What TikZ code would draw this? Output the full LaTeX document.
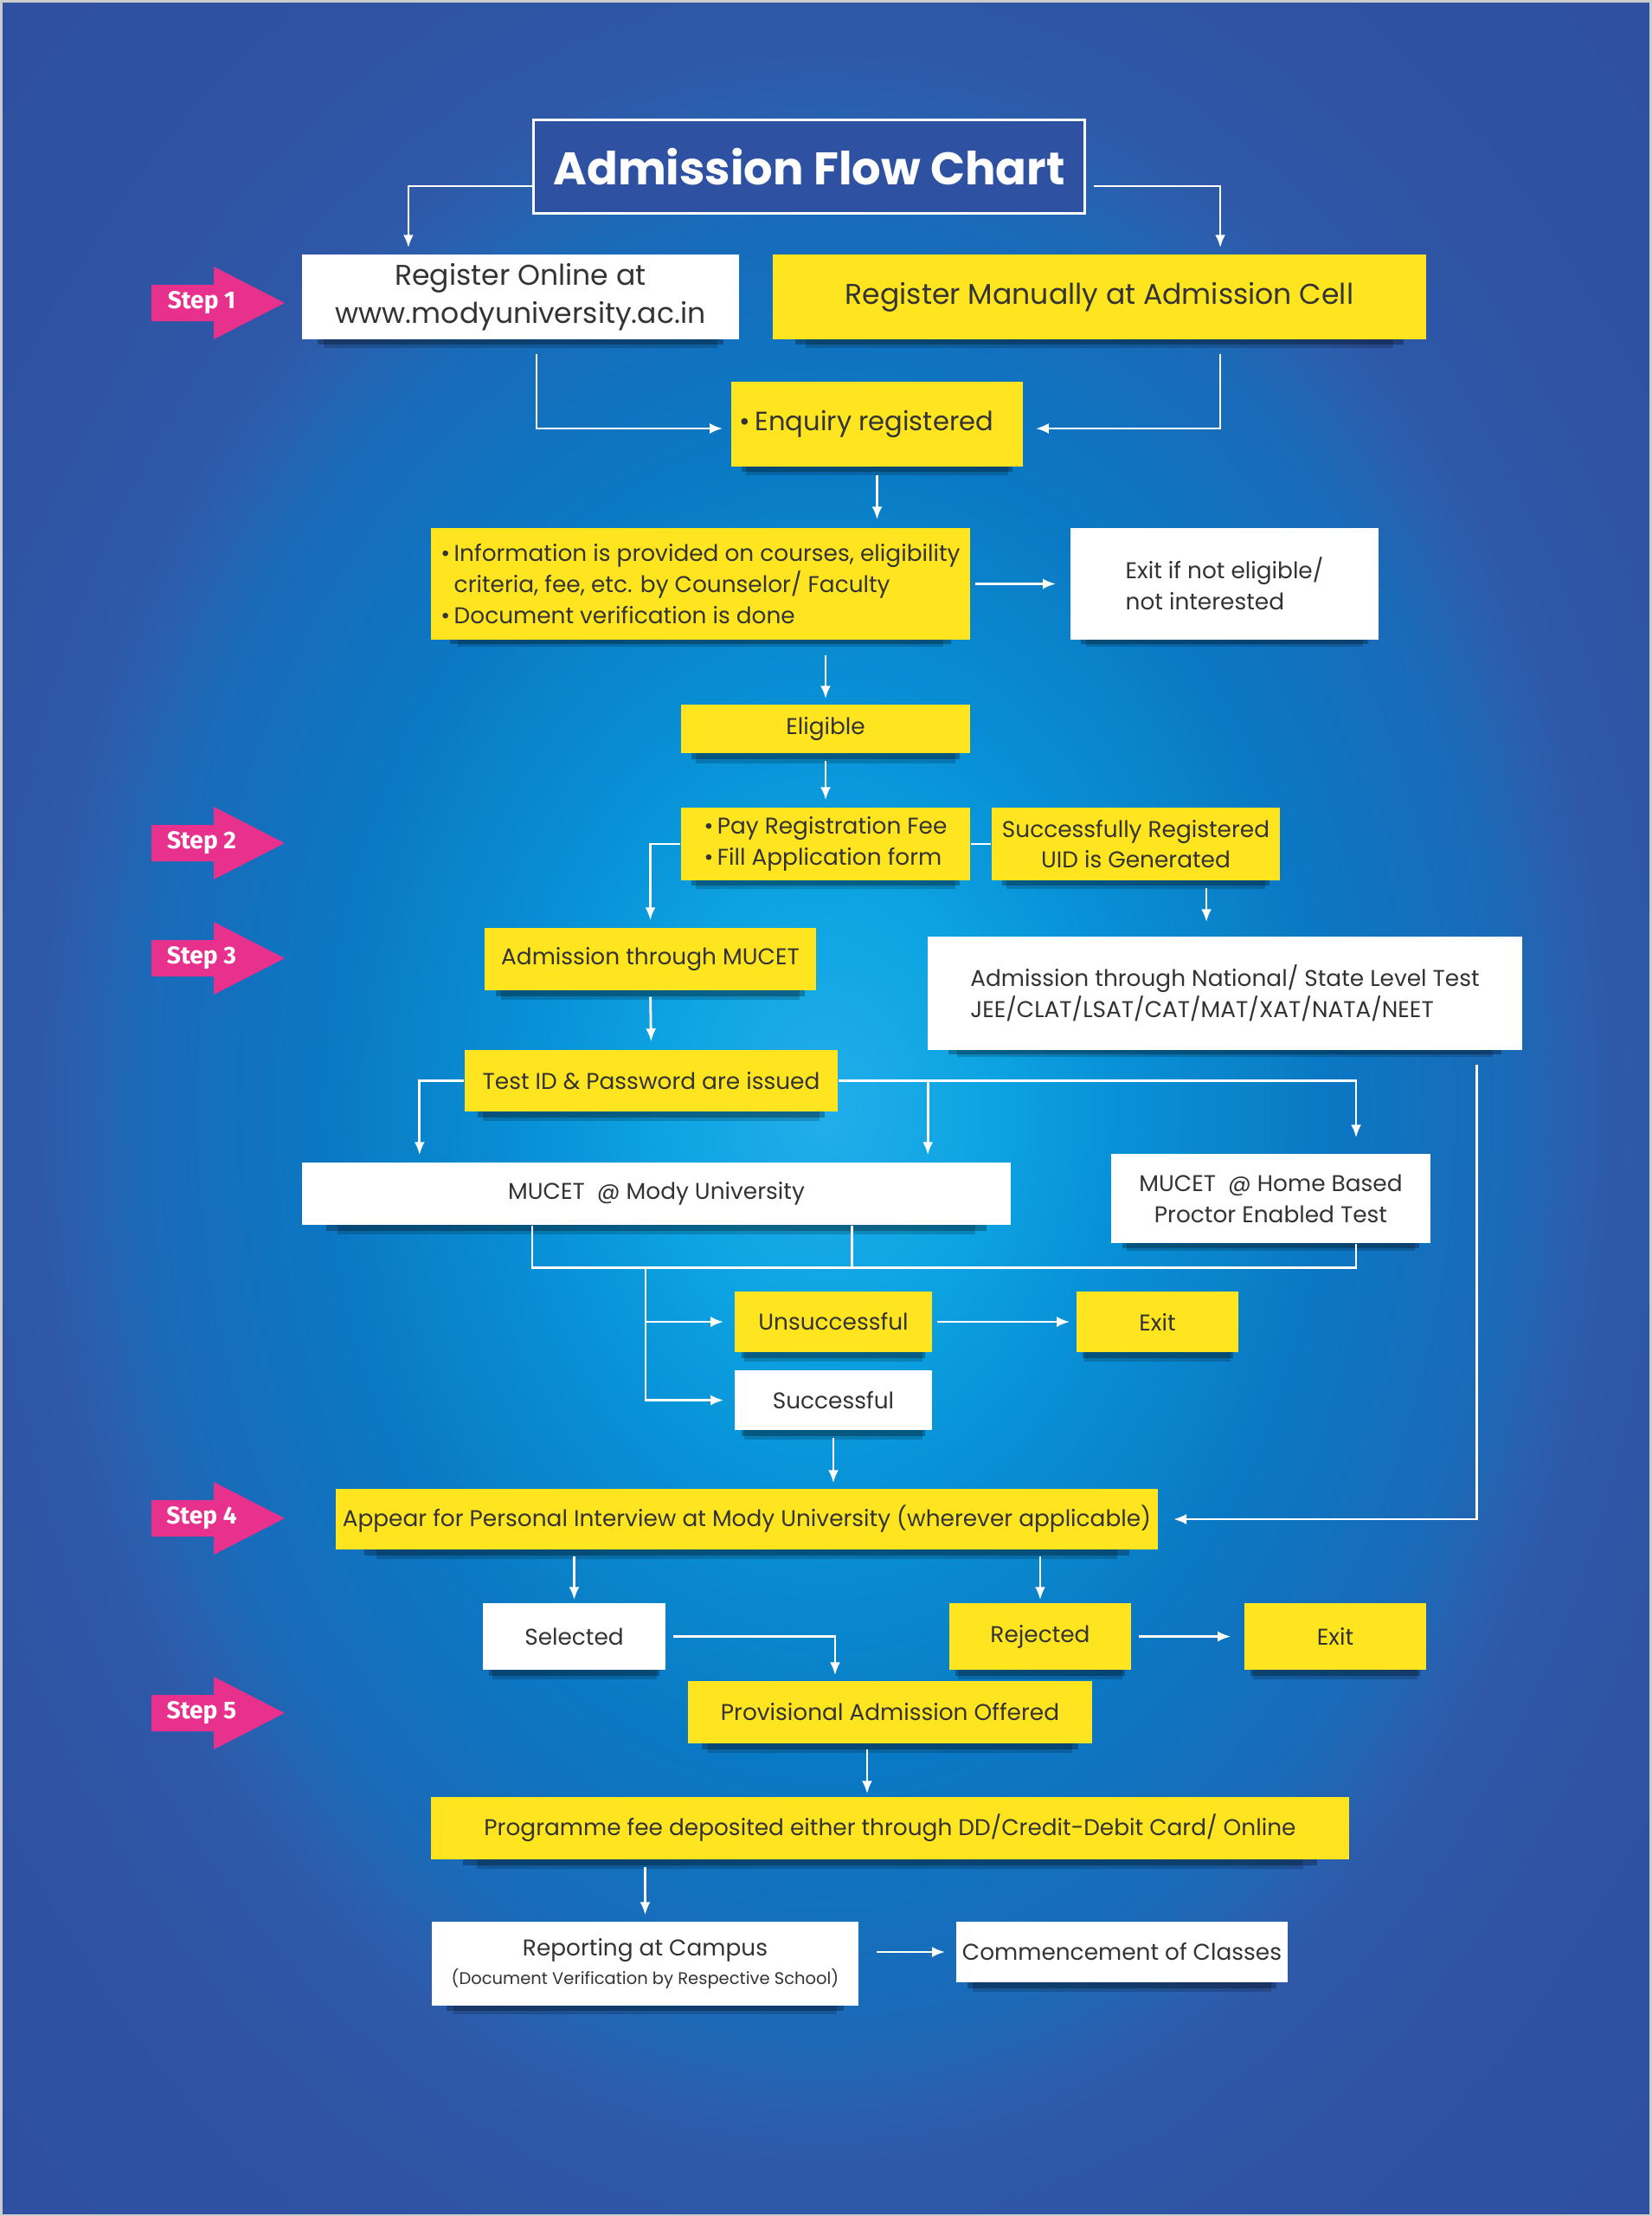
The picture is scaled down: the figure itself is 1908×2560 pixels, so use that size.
\documentclass[tikz,border=0pt]{standalone}
\usepackage{fontspec}
\setmainfont{Poppins}
\newfontfamily\stepfont{Fira Sans}
\usetikzlibrary{positioning}
\usetikzlibrary{shadows,arrows.meta,calc}
\definecolor{bgin}{HTML}{22AEEA}
\definecolor{bgout}{HTML}{2F4E9E}
\definecolor{titleblue}{HTML}{2F51A1}
\definecolor{boxyellow}{HTML}{FFE520}
\definecolor{textgray}{HTML}{333333}
\definecolor{steppink}{HTML}{E8318C}
\pgfdeclareradialshading{bgshade}{\pgfpoint{0bp}{0bp}}{%
  color(0bp)=(bgin); color(5bp)=(rgb,255:red,13;green,163;blue,226);
  color(9bp)=(rgb,255:red,8;green,144;blue,214);
  color(13.4bp)=(rgb,255:red,10;green,128;blue,200);
  color(15bp)=(rgb,255:red,10;green,120;blue,196);
  color(20.7bp)=(rgb,255:red,27;green,106;blue,184);
  color(22.7bp)=(rgb,255:red,42;green,95;blue,174);
  color(24bp)=(rgb,255:red,47;green,88;blue,168);
  color(30bp)=(rgb,255:red,47;green,81;blue,161);
  color(50bp)=(bgout)}
\newcommand\bodysize{\fontsize{7.5}{10.2}\selectfont}
\newcommand\midsize{\fontsize{8.7}{11}\selectfont}
\newcommand\bigsize{\fontsize{9.4}{12.5}\selectfont}
\newcommand\smallsize{\fontsize{5.55}{7}\selectfont}
\newcommand\titlesize{\fontsize{15}{17}\selectfont}
\newcommand\bul{\textbullet\,}
\tikzset{
  box/.style = {rectangle, fill=boxyellow, text=textgray, inner sep=0pt,
    align=center, font=\bodysize,
    drop shadow={shadow xshift=0mm, shadow yshift=-1.6mm, shadow scale=0.9,
      opacity=0.18, fill=black},
    drop shadow={shadow xshift=0mm, shadow yshift=-1.0mm, shadow scale=0.93,
      opacity=0.28, fill=black}},
  wbox/.style = {box, fill=white},
  link/.style = {draw=white, line width=0.28mm},
  conn/.style = {link, -{Latex[length=1.5mm,width=1.2mm]}},
  steptext/.style = {text=white, font=\stepfont\bfseries\fontsize{8}{9}\selectfont},
}

\begin{document}
\begin{tikzpicture}[x=0.01cm, y=-0.01cm]
  \useasboundingbox (0,0) rectangle (1908,2560);
  \shade[shading=bgshade] (0,0) rectangle (1908,2560);
  \draw[gray!40, line width=0.3mm] (1,1) rectangle (1907,2559);

  % step markers
  \foreach \y/\n in {350/1, 974/2, 1107/3, 1754/4, 1979/5}{
    \fill[steppink] (175,\y-21) -- (247,\y-21) -- (247,\y-42) -- (329,\y)
      -- (247,\y+42) -- (247,\y+21) -- (175,\y+21) -- cycle;
    \node[steptext] (step\n) at (233,\y) {Step \n};
  }

  \node[draw=white, line width=0.3mm, fill=titleblue, text=white,
    font=\titlesize\bfseries, minimum width=6.36cm, minimum height=1.07cm]
    (title) at (935,192.5) {Admission Flow Chart};

  \node[wbox, font=\bigsize, minimum width=5.05cm, minimum height=0.98cm]
    (online) at (601.5,343) {Register Online at\\www.modyuniversity.ac.in};
  \node[box, font=\bigsize, minimum width=7.55cm, minimum height=0.98cm]
    (manual) at (1270.5,343) {Register Manually at Admission Cell};
  \node[box, font=\midsize, minimum width=3.37cm, minimum height=0.98cm]
    (enq) at (1013.5,490) {\bul Enquiry registered\hspace*{2.4mm}};
  \node[box, align=left, minimum width=6.23cm, minimum height=1.29cm]
    (info) at (809.5,674.5)
    {\bul Information is provided on courses, eligibility\\
     \hphantom{\bul}criteria, fee, etc. by Counselor/ Faculty\\
     \bul Document verification is done};
  \node[wbox, align=left, minimum width=3.56cm, minimum height=1.29cm]
    (exitA) at (1415,674.5) {Exit if not eligible/\\not interested};
  \node[box, minimum width=3.34cm, minimum height=0.56cm]
    (elig) at (954,842) {Eligible};
  \node[box, align=left, minimum width=3.34cm, minimum height=0.84cm]
    (pay) at (954,975) {\bul Pay Registration Fee\\\bul Fill Application form};
  \node[box, minimum width=3.33cm, minimum height=0.84cm]
    (succreg) at (1312.5,975) {Successfully Registered\\UID is Generated};
  \node[box, minimum width=3.83cm, minimum height=0.72cm]
    (mucet) at (751.5,1108) {Admission through MUCET};
  \node[wbox, align=left, minimum width=6.87cm, minimum height=1.31cm]
    (natl) at (1415.5,1147.5)
    {Admission through National/ State Level Test\\JEE/CLAT/LSAT/CAT/MAT/XAT/NATA/NEET};
  \node[box, minimum width=4.31cm, minimum height=0.71cm]
    (testid) at (752.5,1248.5) {Test ID \& Password are issued};
  \node[wbox, minimum width=8.19cm, minimum height=0.72cm]
    (mody) at (758.5,1379) {MUCET\ \ @ Mody University};
  \node[wbox, minimum width=3.69cm, minimum height=1.03cm]
    (home) at (1468.5,1384.5) {MUCET\ \ @ Home Based\\Proctor Enabled Test};
  \node[box, minimum width=2.28cm, minimum height=0.70cm]
    (unsucc) at (963,1527) {Unsuccessful};
  \node[box, minimum width=1.87cm, minimum height=0.70cm]
    (exitB) at (1337.5,1527) {Exit};
  \node[wbox, minimum width=2.28cm, minimum height=0.69cm]
    (succ) at (963,1617.5) {Successful};
  \node[box, minimum width=9.50cm, minimum height=0.70cm]
    (appear) at (863,1755)
    {Appear for Personal Interview at Mody University (wherever applicable)};
  \node[wbox, minimum width=2.11cm, minimum height=0.77cm]
    (sel) at (663.5,1890.5) {Selected};
  \node[box, minimum width=2.10cm, minimum height=0.77cm]
    (rej) at (1202,1890.5) {Rejected};
  \node[box, minimum width=2.10cm, minimum height=0.77cm]
    (exitC) at (1543,1890.5) {Exit};
  \node[box, minimum width=4.67cm, minimum height=0.72cm]
    (prov) at (1028.5,1978) {Provisional Admission Offered};
  \node[box, minimum width=10.61cm, minimum height=0.72cm]
    (fee) at (1028.5,2112)
    {Programme fee deposited either through DD/Credit-Debit Card/ Online};
  \node[wbox, minimum width=4.93cm, minimum height=0.97cm]
    (report) at (745.5,2268.5)
    {Reporting at Campus\\[-1pt]{\smallsize(Document Verification by Respective School)}};
  \node[wbox, minimum width=3.83cm, minimum height=0.70cm]
    (classes) at (1296.5,2255) {Commencement of Classes};

  % connectors
  \draw[conn, shorten >=0.7mm] ([yshift=-2.25mm]title.west) -| ([xshift=-12.95mm]online.north);
  \draw[conn, shorten >=0.7mm] ([xshift=0.9mm, yshift=-2.25mm]title.east) -| ([xshift=13.95mm]manual.north);
  \draw[conn, shorten <=1.6mm, shorten >=0.9mm] ([xshift=1.85mm]online.south) |- ([yshift=-0.5mm]enq.west);
  \draw[conn, shorten <=1.6mm, shorten >=1.4mm] ([xshift=13.95mm]manual.south) |- ([yshift=-0.5mm]enq.east);
  \draw[conn, shorten <=0.9mm, shorten >=0.9mm] (enq.south) -- (enq.south |- info.north);
  \draw[conn, shorten <=0.5mm, shorten >=1.6mm] (info.east) -- (info.east -| exitA.west);
  \draw[conn, shorten <=1.7mm, shorten >=0.6mm] (elig.north |- info.south) -- (elig.north);
  \draw[conn, shorten <=0.8mm, shorten >=0.8mm] (elig.south) -- (pay.north);
  \draw[link] (pay.east) -- (succreg.west);
  \draw[conn, shorten >=0.8mm] (pay.west) -| (mucet.north);
  \draw[conn, shorten <=0.8mm, shorten >=1.6mm] ([xshift=8.15mm]succreg.south) -- ([xshift=8.15mm]succreg.south |- natl.north);
  \draw[conn, shorten <=0.7mm, shorten >=0.9mm] (mucet.south) -- (testid.north);
  \draw[conn, shorten >=0.8mm] (testid.west) -| ([xshift=-27.35mm]mody.north);
  \draw[conn, shorten >=1.8mm] (testid.east) -| ([xshift=9.85mm]home.north);
  \draw[conn, shorten >=0.8mm] ([xshift=31.35mm]mody.north |- testid.east) -- ([xshift=31.35mm]mody.north);
  \draw[link] ([xshift=-14.35mm]mody.south) -- ++(0,49) -| ([xshift=9.85mm]home.south);
  \draw[link] ([xshift=22.55mm]mody.south) -- ++(0,49);
  \coordinate (split) at (746,1464);
  \draw[conn, shorten >=1.2mm] (split) |- (unsucc.west);
  \draw[conn, shorten >=1.2mm] (split) |- (succ.west);
  \draw[conn, shorten <=0.5mm, shorten >=0.7mm] (unsucc.east) -- (exitB.west);
  \draw[conn, shorten <=0.8mm, shorten >=0.6mm] (succ.south) -- (succ.south |- appear.north);
  \draw[conn, shorten <=1.6mm, shorten >=1.7mm] ([xshift=29.05mm]natl.south) |- (appear.east);
  \draw[conn, shorten <=0.7mm, shorten >=0.3mm] (sel.north |- appear.south) -- (sel.north);
  \draw[conn, shorten <=0.7mm, shorten >=0.3mm] (rej.north |- appear.south) -- (rej.north);
  \draw[conn, shorten <=0.8mm, shorten >=1.5mm] (rej.east) -- (exitC.west);
  \draw[conn, shorten <=0.8mm, shorten >=0.6mm] (sel.east) -| ([xshift=-6.35mm]prov.north);
  \draw[conn, shorten <=0.6mm, shorten >=0.3mm] ([xshift=-2.65mm]prov.south) -- ([xshift=-2.65mm]prov.south |- fee.north);
  \draw[conn, shorten <=0.8mm, shorten >=0.7mm] (report.north |- fee.south) -- (report.north);
  \draw[conn, shorten <=2mm, shorten >=1.2mm] (report.east |- classes.west) -- (classes.west);
\end{tikzpicture}
\end{document}
